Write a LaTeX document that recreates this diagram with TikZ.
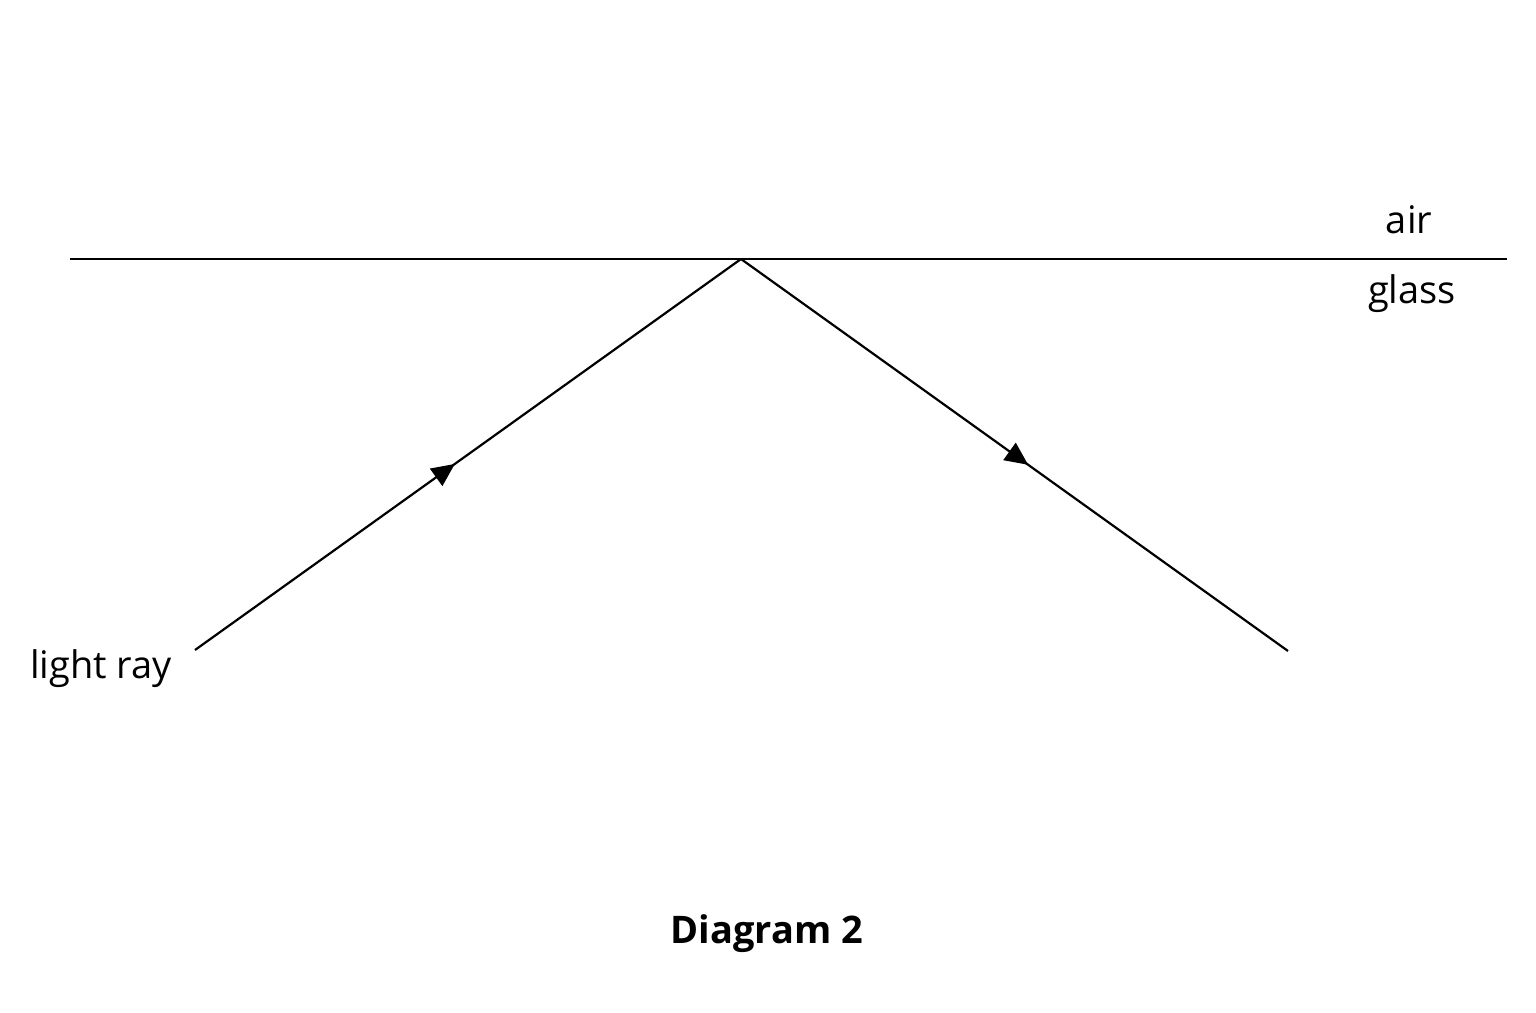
\documentclass[tikz,border=0pt]{standalone}
\usepackage{fontspec}
\setmainfont{Open Sans}
\usetikzlibrary{arrows.meta,decorations.markings}
\begin{document}
\begin{tikzpicture}[x=1pt,y=-1pt,
  ray/.style={line width=2.2pt},
  surface/.style={line width=2.2pt},
  lbl/.style={font=\fontsize{38}{46}\selectfont, inner sep=0pt},
  midarrow/.style={postaction={decorate},decoration={markings,
     mark=at position #1 with {\arrow{Triangle[length=23pt,width=21pt]}}}}]
\useasboundingbox (0,0) rectangle (1536,1012);
\coordinate (surfL) at (70,259);
\coordinate (surfR) at (1507,259);
\coordinate (apex) at (741,259);
\coordinate (lstart) at (195,650);
\coordinate (rend) at (1288,651);
\draw[surface] (surfL) -- (surfR);
\draw[ray, midarrow=0.476] (lstart) -- (apex);
\draw[ray, midarrow=0.525] (apex) -- (rend);
\node[lbl] (air) at (1409,220) {air};
\node[lbl] (glass) at (1412,294) {glass};
\node[lbl] (light) at (101,669) {light ray};
\node[lbl, font=\fontsize{38}{46}\selectfont\bfseries] (cap) at (767,934) {Diagram 2};
\end{tikzpicture}
\end{document}
